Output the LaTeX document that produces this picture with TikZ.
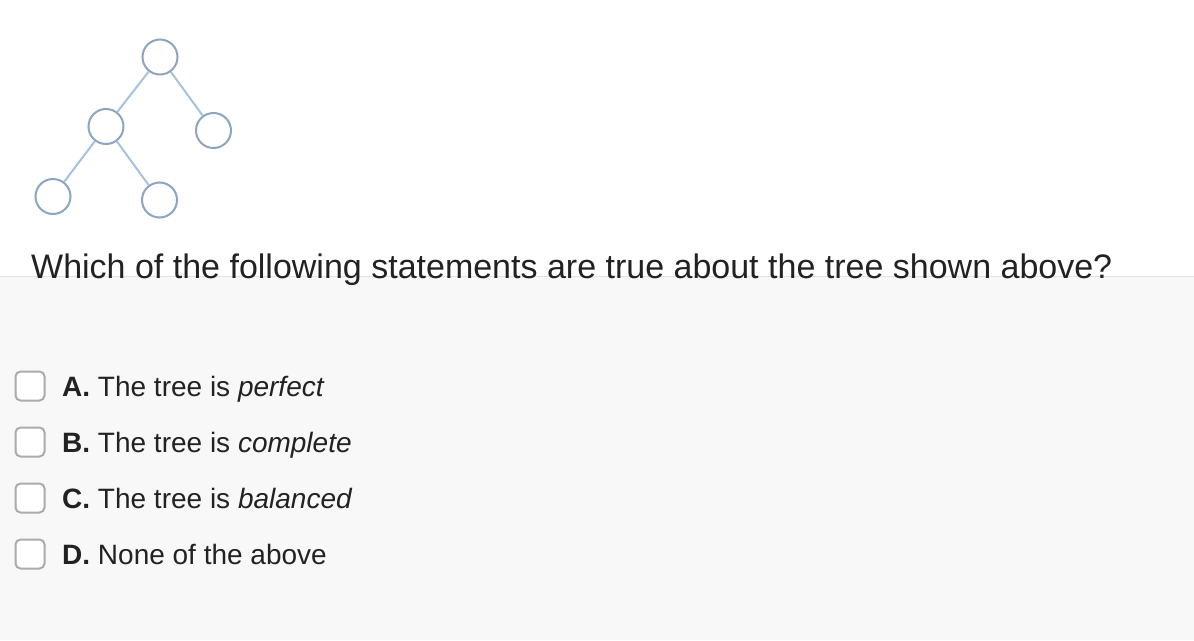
\documentclass[tikz,border=0pt]{standalone}
\usepackage{fontspec}
\setmainfont{Liberation Sans}
\definecolor{circlec}{HTML}{8FA4BF}
\definecolor{edgec}{HTML}{A6C2E2}
\definecolor{panel}{HTML}{F8F8F8}
\definecolor{sepc}{HTML}{E2E2E2}
\definecolor{boxc}{HTML}{ABABAB}
\definecolor{txt}{HTML}{222222}
\begin{document}
\begin{tikzpicture}[x=1pt,y=-1pt,
  tnode/.style={circle,draw=circlec,line width=2pt,fill=white,minimum size=35pt,inner sep=0pt},
  tedge/.style={draw=edgec,line width=2pt},
  cbox/.style={draw=boxc,line width=2pt,fill=white,rounded corners=5pt,minimum size=29pt,inner sep=0pt},
  opt/.style={anchor=base west,inner sep=0pt,text=txt,font=\fontsize{28}{33}\selectfont},
  ques/.style={anchor=base west,inner sep=0pt,text=txt,font=\fontsize{34}{40}\selectfont}]
\useasboundingbox (0,0) rectangle (1194,640);
\fill[white] (0,0) rectangle (1194,277);
\fill[panel] (0,277) rectangle (1194,640);
\draw[sepc,line width=1.5pt] (0,276.5) -- (1194,276.5);
% tree
\node[tnode] (r) at (160,57) {};
\node[tnode] (m) at (106,126.5) {};
\node[tnode] (rc) at (213.5,130.5) {};
\node[tnode] (ll) at (53,196.5) {};
\node[tnode] (lr) at (159.5,200) {};
\draw[tedge] (r) -- (m);
\draw[tedge] (r) -- (rc);
\draw[tedge] (m) -- (ll);
\draw[tedge] (m) -- (lr);
% question
\node[ques] (q) at (31,278) {Which of the following statements are true about the tree shown above?};
% options
\node[cbox] (ba) at (30,386) {};
\node[cbox] (bb) at (30,442) {};
\node[cbox] (bc) at (30,498) {};
\node[cbox] (bd) at (30,554) {};
\node[opt] (oa) at (62,396) {\textbf{A.} The tree is \textit{perfect}};
\node[opt] (ob) at (62,452) {\textbf{B.} The tree is \textit{complete}};
\node[opt] (oc) at (62,508) {\textbf{C.} The tree is \textit{balanced}};
\node[opt] (od) at (62,564) {\textbf{D.} None of the above};
\end{tikzpicture}
\end{document}
